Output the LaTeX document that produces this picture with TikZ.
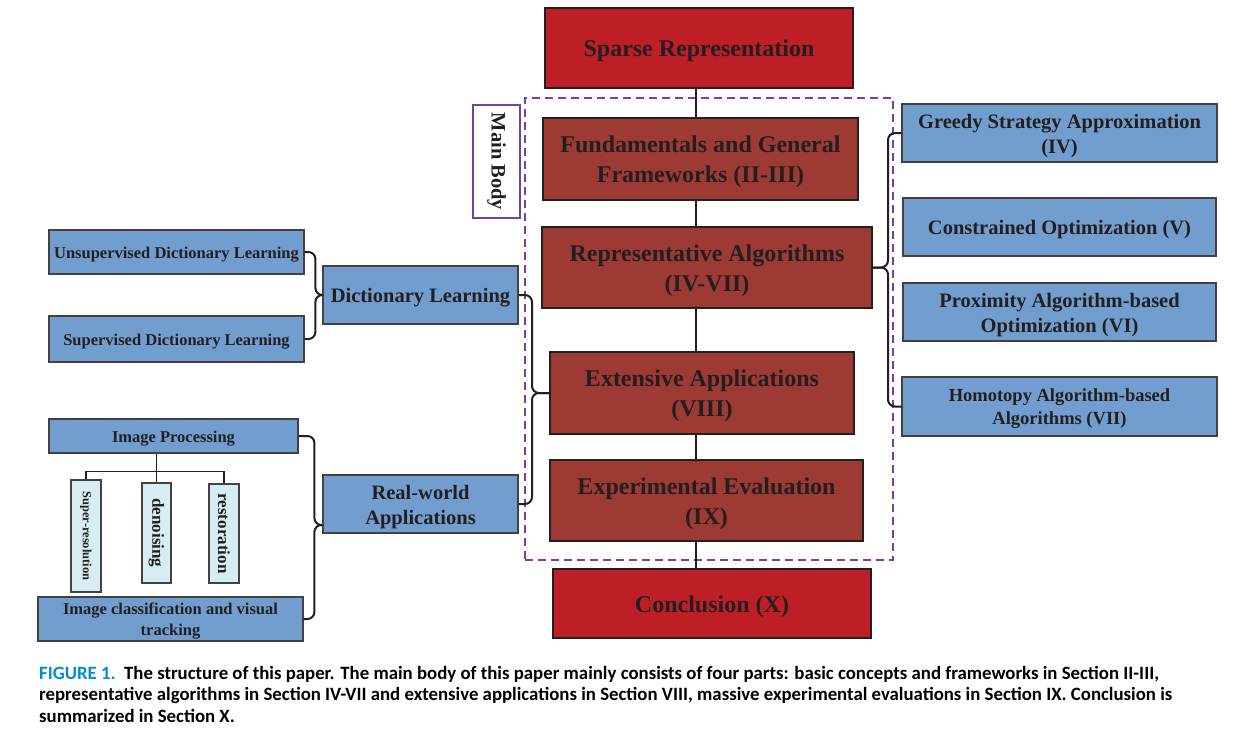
\documentclass[tikz,border=0pt]{standalone}
\usepackage{fontspec}
\setmainfont{Liberation Serif}
\newfontfamily\capfont{Carlito}
\definecolor{topred}{RGB}{190,30,38}
\definecolor{bodyred}{RGB}{158,58,52}
\definecolor{partblue}{RGB}{114,158,207}
\definecolor{subcyan}{RGB}{214,237,243}
\definecolor{framepurple}{RGB}{123,63,160}
\definecolor{inkdark}{RGB}{35,31,32}
\definecolor{capblue}{RGB}{0,140,206}
\newcommand{\topgap}{\rule{0pt}{0.95em}}
\begin{document}
\begin{tikzpicture}[x=1pt,y=-1pt,
    redbox/.style={draw=inkdark,line width=2pt,fill=topred,text=inkdark,align=center,inner sep=0pt,
      font=\fontsize{24}{30}\selectfont\bfseries},
    partbox/.style={redbox,fill=bodyred},
    bluebox/.style={draw=inkdark!85,line width=1.2pt,fill=partblue,text=inkdark,align=center,inner sep=0pt,
      font=\fontsize{20.5}{25}\selectfont\bfseries},
    smallblue/.style={bluebox,font=\fontsize{16.5}{20.5}\selectfont\bfseries},
    leafbox/.style={draw=inkdark!85,line width=1.2pt,fill=subcyan,text=inkdark,inner sep=0pt,rotate=-90,
      font=\fontsize{17}{20}\selectfont\bfseries},
    link/.style={draw=inkdark,line width=1.6pt},
    brace/.style={draw=inkdark,line width=2pt,rounded corners=7pt}]
  \useasboundingbox (0,0) rectangle (1259,731);

  \node[draw=framepurple,line width=2.5pt,dash pattern=on 8pt off 5pt,minimum width=368,minimum height=462] (body) at (709,329) {};
  \node[draw=framepurple,line width=2pt,fill=white,rotate=-90,inner sep=0pt,minimum width=113,minimum height=47,
    font=\fontsize{20.5}{24}\selectfont\bfseries,text=inkdark] (mainlbl) at (496.5,161.5) {Main Body};

  \node[redbox,minimum width=308,minimum height=80] (sr) at (699,48) {\topgap Sparse Representation};
  \node[partbox,minimum width=315,minimum height=82] (fund) at (700.5,159) {\topgap Fundamentals and General\\Frameworks (II-III)};
  \node[partbox,minimum width=330,minimum height=81] (rep) at (707,267.5) {\topgap Representative Algorithms\\(IV-VII)};
  \node[partbox,minimum width=304,minimum height=82] (ext) at (702,393) {\topgap Extensive Applications\\(VIII)};
  \node[partbox,minimum width=313,minimum height=81] (expe) at (706.5,500.5) {\topgap Experimental Evaluation\\(IX)};
  \node[redbox,minimum width=318,minimum height=69] (concl) at (712,603.5) {\topgap Conclusion (X)};

  \node[bluebox,minimum width=315,minimum height=58] (greedy) at (1059.5,133) {\topgap Greedy Strategy Approximation\\(IV)};
  \node[bluebox,minimum width=313,minimum height=58] (constr) at (1059.5,227) {\topgap Constrained Optimization (V)};
  \node[bluebox,minimum width=313,minimum height=58] (prox) at (1059.5,312) {\topgap Proximity Algorithm-based\\Optimization (VI)};
  \node[bluebox,minimum width=315,minimum height=59,font=\fontsize{18.5}{23}\selectfont\bfseries] (homo) at (1059.5,406.5) {\topgap Homotopy Algorithm-based\\Algorithms (VII)};

  \node[smallblue,minimum width=255,minimum height=44] (unsup) at (176.5,252) {\topgap Unsupervised Dictionary Learning};
  \node[smallblue,minimum width=255,minimum height=46] (sup) at (176.5,339) {\topgap Supervised Dictionary Learning};
  \node[bluebox,minimum width=195,minimum height=58] (dict) at (420.5,295) {\topgap Dictionary Learning};
  \node[smallblue,minimum width=249,minimum height=34] (improc) at (173.5,436) {\topgap Image Processing};
  \node[leafbox,minimum width=112,minimum height=30,font=\fontsize{12.5}{15}\selectfont\bfseries] (superres) at (86,536) {Super-resolution};
  \node[leafbox,minimum width=100,minimum height=29] (denoise) at (156.5,533) {denoising};
  \node[leafbox,minimum width=99,minimum height=30] (restor) at (224,533.5) {restoration};
  \node[smallblue,minimum width=265,minimum height=44] (imclass) at (170.5,619) {\topgap Image classification and visual\\tracking};
  \node[bluebox,minimum width=195,minimum height=58] (real) at (420.5,504) {\topgap Real-world\\Applications};

  \coordinate (axis) at (696,0);
  \draw[link] (axis |- sr.south) -- (axis |- fund.north)
    (axis |- fund.south) -- (axis |- rep.north)
    (axis |- rep.south) -- (axis |- ext.north)
    (axis |- ext.south) -- (axis |- expe.north)
    (axis |- expe.south) -- (axis |- concl.north);

  \draw[link,line width=1.2pt] (denoise.west) -- (denoise.west |- improc.south);
  \draw[link,line width=1.2pt] (superres.west) -- ++(0,-8) -| (restor.west);

  \draw[brace] (unsup.east) -| ([xshift=-7pt]dict.west) -- (dict.west);
  \draw[brace] (sup.east) -| ([xshift=-7pt]dict.west) -- (dict.west);
  \draw[brace] (improc.east) -| ([xshift=-8pt,yshift=-21pt]real.west) -- ([yshift=-21pt]real.west);
  \draw[brace] (imclass.east) -| ([xshift=-8pt,yshift=-21pt]real.west) -- ([yshift=-21pt]real.west);
  \draw[brace] (dict.east) -| ([xshift=-17pt]ext.west) -- (ext.west);
  \draw[brace] (real.east) -| ([xshift=-17pt]ext.west) -- (ext.west);
  \draw[brace] (greedy.west) -| ([xshift=15pt]rep.east) -- (rep.east);
  \draw[brace] (homo.west) -| ([xshift=15pt]rep.east) -- (rep.east);

  \node[anchor=north west,inner sep=0pt,align=left,font=\capfont\bfseries\fontsize{18.8}{21.5}\selectfont] (caption) at (39,666)
    {{\color{capblue}FIGURE 1.}\ \ The structure of this paper. The main body of this paper mainly consists of four parts: basic concepts and frameworks in Section II-III,\\
     representative algorithms in Section IV-VII and extensive applications in Section VIII, massive experimental evaluations in Section IX. Conclusion is\\
     summarized in Section X.};
\end{tikzpicture}
\end{document}
